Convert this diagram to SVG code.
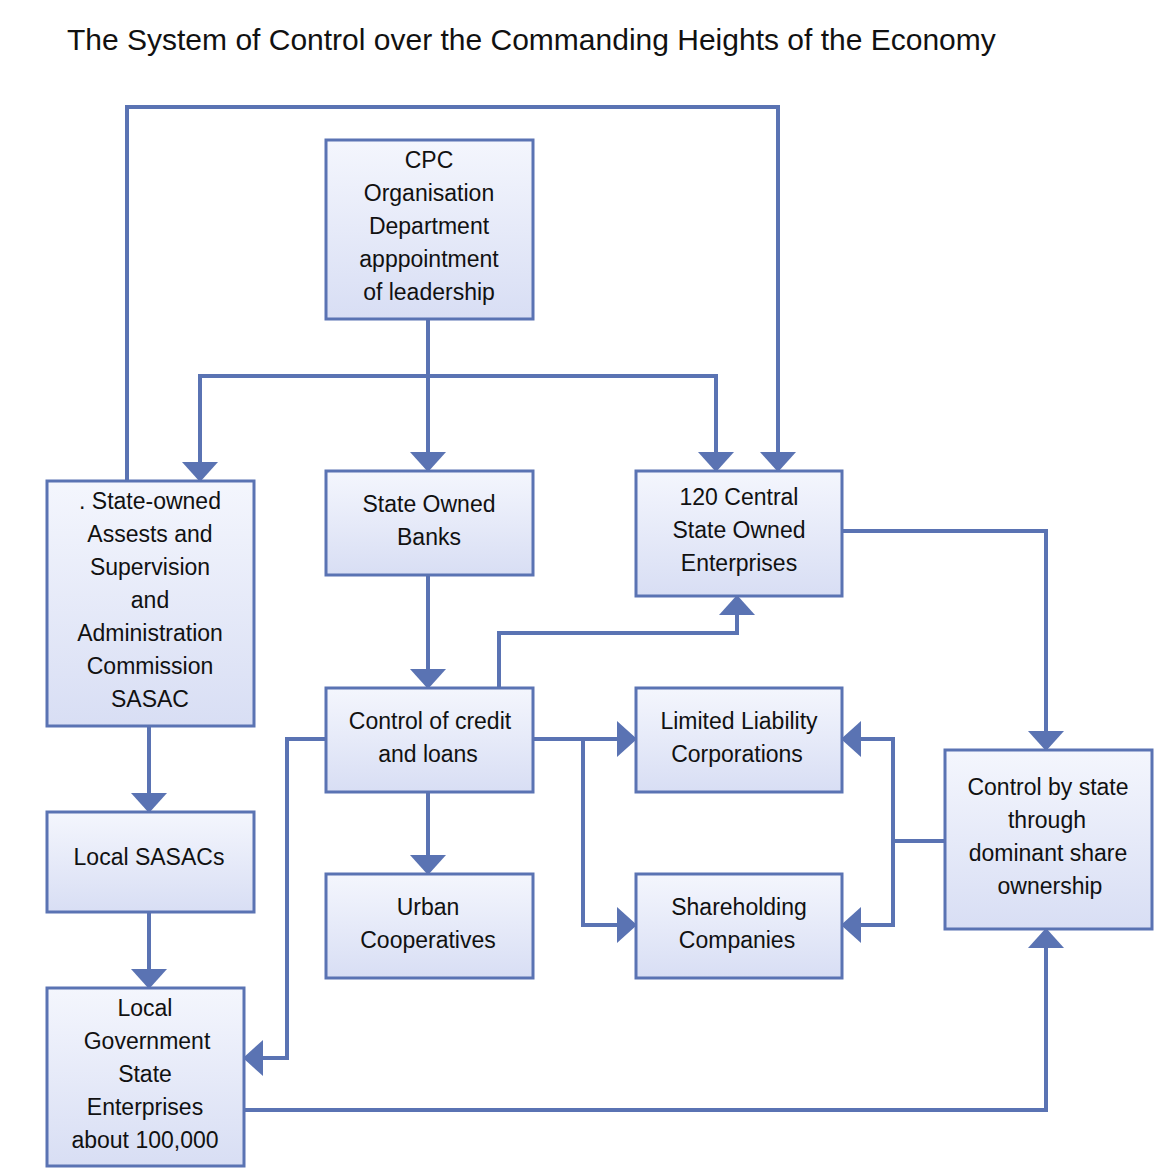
<svg xmlns="http://www.w3.org/2000/svg" width="1175" height="1168" viewBox="0 0 1175 1168">
<style>
.box{fill:url(#g);stroke:#5a73b3;stroke-width:3}
.t{font-family:"Liberation Sans",Arial,sans-serif;font-size:23px;fill:#111;text-anchor:middle}
.c{fill:none;stroke:#5a73b3;stroke-width:4;marker-end:url(#a)}
.n{fill:none;stroke:#5a73b3;stroke-width:4}
</style>
<defs>
<linearGradient id="g" x1="0" y1="0" x2="0" y2="1"><stop offset="0" stop-color="#f4f6fd"/><stop offset="1" stop-color="#d8def4"/></linearGradient>
<marker id="a" markerUnits="userSpaceOnUse" markerWidth="20" markerHeight="40" viewBox="0 0 20 40" refX="19" refY="20" orient="auto"><path d="M0,2 L20,20 L0,38 Z" fill="#5a73b3"/></marker>
</defs>
<rect width="1175" height="1168" fill="#fff"/>
<text x="67" y="50" style="font-family:'Liberation Sans',Arial,sans-serif;font-size:30px;fill:#111">The System of Control over the Commanding Heights of the Economy</text>
<g id="connectors">
<path class="c" d="M428,319 V471"/>
<path class="c" d="M428,376 H200 V481"/>
<path class="c" d="M428,376 H716 V471"/>
<path class="c" d="M127,481 V107 H778 V471"/>
<path class="c" d="M428,575 V688"/>
<path class="c" d="M499,688 V633 H737 V596"/>
<path class="c" d="M533,739 H636"/>
<path class="c" d="M583,739 V925 H636"/>
<path class="c" d="M326,739 H287 V1058 H244"/>
<path class="c" d="M428,792 V874"/>
<path class="c" d="M149,726 V812"/>
<path class="c" d="M149,912 V988"/>
<path class="c" d="M842,531 H1046 V750"/>
<path class="n" d="M945,841 H893"/>
<path class="c" d="M893,841 V739 H842"/>
<path class="c" d="M893,841 V925 H842"/>
<path class="c" d="M244,1110 H1046 V929"/>
</g>
<g id="cpc"><rect class="box" x="326" y="140" width="207" height="179"/><text class="t" x="429" y="168">CPC</text><text class="t" x="429" y="201">Organisation</text><text class="t" x="429" y="234">Department</text><text class="t" x="429" y="267">apppointment</text><text class="t" x="429" y="300">of leadership</text></g>
<g id="sasac"><rect class="box" x="47" y="481" width="207" height="245"/><text class="t" x="150" y="509">. State-owned</text><text class="t" x="150" y="542">Assests and</text><text class="t" x="150" y="575">Supervision</text><text class="t" x="150" y="608">and</text><text class="t" x="150" y="641">Administration</text><text class="t" x="150" y="674">Commission</text><text class="t" x="150" y="707">SASAC</text></g>
<g id="banks"><rect class="box" x="326" y="471" width="207" height="104"/><text class="t" x="429" y="512">State Owned</text><text class="t" x="429" y="545">Banks</text></g>
<g id="central"><rect class="box" x="636" y="471" width="206" height="125"/><text class="t" x="739" y="505">120 Central</text><text class="t" x="739" y="538">State Owned</text><text class="t" x="739" y="571">Enterprises</text></g>
<g id="credit"><rect class="box" x="326" y="688" width="207" height="104"/><text class="t" x="430" y="729">Control of credit</text><text class="t" x="428" y="762">and loans</text></g>
<g id="llc"><rect class="box" x="636" y="688" width="206" height="104"/><text class="t" x="739" y="729">Limited Liability</text><text class="t" x="737" y="762">Corporations</text></g>
<g id="state"><rect class="box" x="945" y="750" width="207" height="179"/><text class="t" x="1048" y="795">Control by state</text><text class="t" x="1047" y="828">through</text><text class="t" x="1048" y="861">dominant share</text><text class="t" x="1050" y="894">ownership</text></g>
<g id="localsasacs"><rect class="box" x="47" y="812" width="207" height="100"/><text class="t" x="149" y="865">Local SASACs</text></g>
<g id="urban"><rect class="box" x="326" y="874" width="207" height="104"/><text class="t" x="428" y="915">Urban</text><text class="t" x="428" y="948">Cooperatives</text></g>
<g id="share"><rect class="box" x="636" y="874" width="206" height="104"/><text class="t" x="739" y="915">Shareholding</text><text class="t" x="737" y="948">Companies</text></g>
<g id="localgov"><rect class="box" x="47" y="988" width="197" height="178"/><text class="t" x="145" y="1016">Local</text><text class="t" x="147" y="1049">Government</text><text class="t" x="145" y="1082">State</text><text class="t" x="145" y="1115">Enterprises</text><text class="t" x="145" y="1148">about 100,000</text></g>
</svg>
